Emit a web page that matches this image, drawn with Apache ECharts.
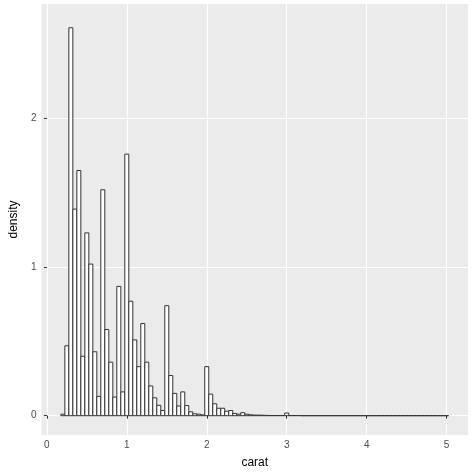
<!DOCTYPE html>
<html>
<head>
<meta charset="utf-8">
<script src="https://cdn.jsdelivr.net/npm/echarts@6/dist/echarts.min.js"></script>
<style>html,body{margin:0;padding:0;background:#fff}#chart{width:474px;height:474px}</style>
</head>
<body>
<div id="chart"></div>
<script>
// bin centres (width 0.05) and densities
const binWidth = 0.05;
const binStart = 0.2;
const densities = [
	0.01, 0.47, 2.61, 1.39, 1.65, 0.40, 1.23, 1.02, 0.43, 0.13,
	1.52, 0.58, 0.36, 0.125, 0.87, 0.16, 1.76, 0.77, 0.51, 0.33,
	0.62, 0.36, 0.20, 0.12, 0.07, 0.035, 0.74, 0.27, 0.15, 0.065,
	0.16, 0.068, 0.026, 0.013, 0.01, 0.005, 0.33, 0.145, 0.08, 0.05,
	0.05, 0.03, 0.035, 0.015, 0.01, 0.02, 0.01, 0.006, 0.004, 0.004,
	0.003, 0.002, 0.001, 0.001, 0.001, 0.001, 0.018, 0.001, 0.001, 0.001
];
const xTicks = [0, 1, 2, 3, 4, 5];
const yTicks = [0, 1, 2];
const xMinor = [0.5, 1.5, 2.5, 3.5, 4.5];
const yMinor = [0.5, 1.5, 2.5];
const lastCentre = 5.0;

const bins = [];
for (let i = 0; i < densities.length; i++) {
	bins.push([+(binStart + i * binWidth).toFixed(2), densities[i]]);
}
// empty bins up to the last one still draw their outline on the baseline
for (let c = binStart + densities.length * binWidth; c <= lastCentre + 1e-9; c += binWidth) {
	bins.push([+c.toFixed(2), 0]);
}

const chart = echarts.init(document.getElementById("chart"));

const option = {
	animation: false,
	backgroundColor: "#ffffff",
	grid: {
		left: 31, right: 6, top: 4, bottom: 33,
		show: true, backgroundColor: "#EBEBEB", borderWidth: 0
	},
	xAxis: {
		type: "value",
		min: -0.0675, max: 5.2675,
		name: "carat", nameLocation: "middle", nameGap: 22,
		nameTextStyle: { color: "#000", fontSize: 12, fontFamily: "Liberation Sans" },
		axisLine: { show: false },
		axisTick: { show: true, customValues: xTicks, length: 3, lineStyle: { color: "#333" } },
		axisLabel: { customValues: xTicks, color: "#4D4D4D", fontSize: 10, margin: 5, fontFamily: "Liberation Sans" },
		splitLine: { show: true, lineStyle: { color: "#fff", width: 1.1 } }
	},
	yAxis: {
		type: "value",
		min: -0.13, max: 2.77,
		name: "density", nameLocation: "middle", nameGap: 19, nameRotate: 90,
		nameTextStyle: { color: "#000", fontSize: 12, fontFamily: "Liberation Sans" },
		axisLine: { show: false },
		axisTick: { show: true, customValues: yTicks, length: 3, lineStyle: { color: "#333" } },
		axisLabel: { customValues: yTicks, color: "#4D4D4D", fontSize: 10, margin: 5, fontFamily: "Liberation Sans" },
		splitLine: { show: true, lineStyle: { color: "#fff", width: 1.1 } }
	},
	series: [{
		type: "custom",
		data: bins,
		renderItem: function (params, api) {
			const c = api.value(0);
			const p0 = api.coord([c - binWidth / 2, 0]);
			const p1 = api.coord([c + binWidth / 2, api.value(1)]);
			return {
				type: "rect",
				shape: { x: p0[0], y: p1[1], width: p1[0] - p0[0], height: p0[1] - p1[1] },
				style: { fill: "#fff", stroke: "#333", lineWidth: 1 }
			};
		},
		markLine: {
			silent: true, symbol: "none", label: { show: false },
			lineStyle: { color: "#fff", width: 0.5, type: "solid" },
			z: -1,
			data: xMinor.map(v => ({ xAxis: v })).concat(yMinor.map(v => ({ yAxis: v })))
		}
	}]
};

chart.setOption(option);
window.onresize = chart.resize;
</script>
</body>
</html>
